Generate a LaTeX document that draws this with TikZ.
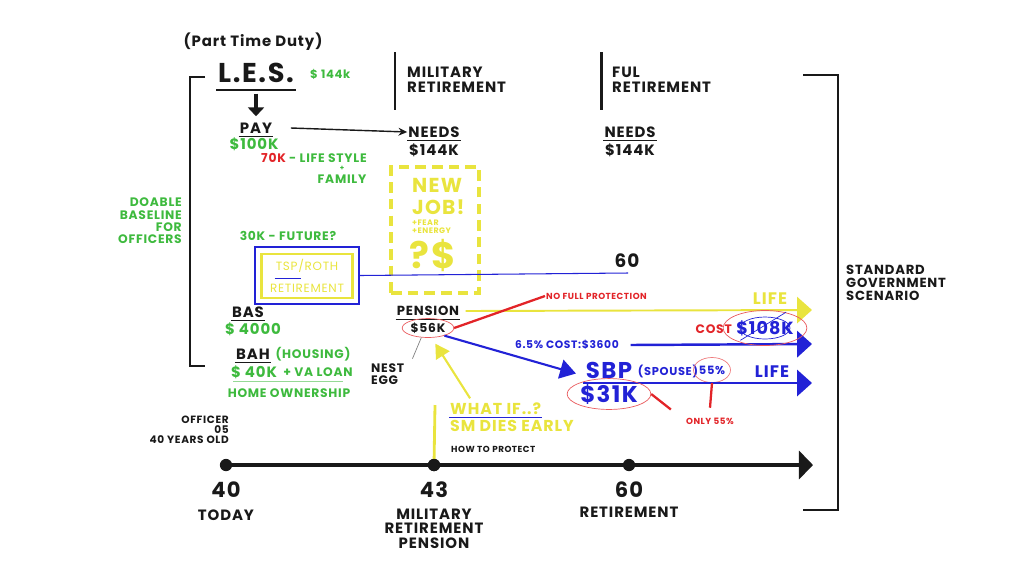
\documentclass[tikz,border=0pt]{standalone}
\usepackage{fontspec}
\setmainfont{Poppins}[LetterSpace=6]
\usetikzlibrary{arrows.meta,positioning,shapes.geometric}
\definecolor{govgreen}{RGB}{62,186,62}
\definecolor{govred}{RGB}{226,36,40}
\definecolor{govyellow}{RGB}{233,228,62}
\definecolor{govblue}{RGB}{34,34,214}
\definecolor{govblack}{RGB}{25,25,25}

\begin{document}
\begin{tikzpicture}[
    x=0.02cm, y=-0.02cm,
    txt/.style={inner sep=0.5pt, text=govblack, align=center, font=\bfseries\fontsize{8.5}{8.6}\selectfont},
    small/.style={inner sep=0.5pt, text=govblack, align=center, font=\bfseries\fontsize{7}{7}\selectfont},
    tiny/.style={inner sep=0.5pt, text=govblack, align=center, font=\bfseries\fontsize{5}{5.2}\selectfont},
    big/.style={inner sep=0.5pt, font=\bfseries\fontsize{13}{13}\selectfont},
    year/.style={inner sep=0.5pt, text=govblack, font=\bfseries\fontsize{12}{12}\selectfont},
    bar/.style={line width=1.7pt, govblack},
    bracket/.style={line width=1.1pt, govblack},
    arrow/.style={-{Stealth[length=5pt,width=4.5pt]}, thick, govblack},
    flow/.style={line width=1.4pt, -{Triangle[length=8.5pt,width=15pt]}},
    ring/.style={ellipse, draw=govred!75, thin, inner sep=1.5pt},
    dot/.style={circle, fill=govblack, inner sep=0pt, minimum size=7pt}
]
\useasboundingbox (0,0) rectangle (1024,576);

% Pay side
\node[txt] (duty) at (253,42) {(Part Time Duty)};
\node[inner sep=1pt, text=govblack, font=\bfseries\fontsize{15.5}{15.5}\selectfont] (les) at (256,73) {L.E.S.};
\draw[govblack, thick] ([yshift=-3pt]les.south west) -- ([yshift=-3pt]les.south east);
\node[small, font=\bfseries\fontsize{6.6}{6.6}\selectfont, text=govgreen, anchor=west] (lesval) at (309,74) {\$ 144k};
\node[txt] (pay) at (256,128) {PAY};
\draw[govblack, thin] ([yshift=-0.8pt]pay.south west) -- ([yshift=-0.8pt]pay.south east);
\node[txt, text=govgreen] (payval) at (254,144.5) {\$100K};
\draw[line width=2.6pt, govblack, -{Triangle[length=5pt,width=9pt]}] ([yshift=-5pt]les.south) -- ([yshift=3pt]pay.north);
\node[small, anchor=west] (style) at (260,157.5) {\textcolor{govred}{70K} \textcolor{govgreen}{- LIFE STYLE}};
\node[inner sep=0pt, text=govgreen, font=\bfseries\fontsize{4}{4}\selectfont] (plus) at (342,168) {+};
\node[small, text=govgreen] (family) at (342,179) {FAMILY};

\node[small, text=govgreen, align=right, anchor=east] (doable) at (183,221) {DOABLE\\BASELINE\\FOR\\OFFICERS};
\draw[bracket] (205,77) -- (190,77) -- (190,366) -- (205,366);

% Retirement headings
\draw[bar] (395,52) -- (395,110);
\node[txt, anchor=west, align=left] (milret) at (406,80) {MILITARY\\RETIREMENT};
\draw[bar] (601,52) -- (601,110);
\node[txt, anchor=west, align=left] (fulret) at (611,80) {FUL\\RETIREMENT};
\node[txt] (needs) at (434,132) {NEEDS};
\draw[govblack, thin] ([yshift=-0.8pt]needs.south west) -- ([yshift=-0.8pt]needs.south east);
\node[txt] (needsval) at (434,150) {\$144K};
\node[txt] (needsful) at (630,132) {NEEDS};
\draw[govblack, thin] ([yshift=-0.8pt]needsful.south west) -- ([yshift=-0.8pt]needsful.south east);
\node[txt] (needsfulval) at (630,150) {\$144K};
\draw[arrow] ([xshift=10pt]pay.east) -- (needs.west);

% New job box
\node[draw=govyellow, line width=2.3pt, dash pattern=on 6pt off 3.5pt, minimum width=1.76cm, minimum height=2.52cm] (newjob) at (435,230) {};
\node[inner sep=0.5pt, text=govyellow, align=left, anchor=north west, font=\bfseries\fontsize{11.5}{12.5}\selectfont] (jobtxt) at (411,177) {NEW\\JOB!};
\node[inner sep=0.5pt, text=govyellow, align=left, anchor=north west, font=\bfseries\fontsize{4.5}{4.6}\selectfont] (fear) at (411,219) {+FEAR\\+ENERGY};
\node[inner sep=0.5pt, text=govyellow, font=\bfseries\fontsize{21}{21}\selectfont] (qmoney) at (433,255) {?\$};

% TSP / Roth
\node[small, text=govgreen] (future) at (288,236) {30K - FUTURE?};
\node[draw=govblue, line width=1.1pt, minimum width=2.08cm, minimum height=1.14cm] (tspbox) at (307,275.5) {};
\node[draw=govyellow, line width=1.5pt, minimum width=1.82cm, minimum height=0.88cm] (tspin) at (307,276) {};
\node[small, text=govyellow, font=\fontsize{6.8}{6.8}\selectfont] (tsp) at (307,266) {TSP/ROTH};
\node[small, text=govyellow, font=\fontsize{6.8}{6.8}\selectfont] (retire) at (307,288) {RETIREMENT};
\draw[govblue, semithick] ([yshift=-2.5pt]tsp.south west) -- ++(26,0);
\coordinate (line60) at (628,273);
\draw[govblue, semithick] (tspbox.east) -- (line60);
\node[inner sep=0.5pt, text=govblack, font=\bfseries\fontsize{10.5}{10.5}\selectfont] (age60) at (627,261) {60};

% BAS / BAH
\node[txt] (bas) at (248,312) {BAS};
\draw[govblack, thin] ([yshift=-1pt]bas.south west) -- ([yshift=-1pt]bas.south east);
\node[txt, text=govgreen] (basval) at (253,329) {\$ 4000};
\node[txt] (bah) at (253,354) {BAH};
\draw[govblack, thin] ([yshift=-1pt]bah.south west) -- ([yshift=-1pt]bah.south east);
\node[txt, text=govgreen] (bahval) at (254,372) {\$ 40K};
\node[small, text=govgreen] (housing) at (313,354) {(HOUSING)};
\node[small, text=govgreen] (valoan) at (318,372) {+ VA LOAN};
\draw[govgreen!55, thin] (233,381) -- (343,381);
\node[small, text=govgreen] (home) at (289,393) {HOME OWNERSHIP};

% Pension and SBP
\node[small, font=\bfseries\fontsize{7.5}{7.5}\selectfont] (pension) at (428,311) {PENSION};
\draw[govblack, thin] ([yshift=-1.5pt]pension.south west) -- ([yshift=-1.5pt]pension.south east);
\node[ring, small, minimum width=0.9cm, minimum height=0.38cm] (p56) at (428,328) {\$56K};
\node[small, align=left, anchor=west] (nest) at (370,374) {NEST\\EGG};
\draw[gray, thin] (p56.235) -- ([xshift=4pt,yshift=2pt]nest.north east);

\coordinate (yend) at (812,310);
\draw[flow, govyellow, line width=1.1pt] ([xshift=3pt]pension.east) -- (yend);
\node[inner sep=0.5pt, text=govyellow, font=\bfseries\fontsize{9.5}{9.5}\selectfont] (lifey) at (770,299) {LIFE};
\node[tiny, text=govred, anchor=west] (nofull) at (545,296) {NO FULL PROTECTION};
\draw[govred, line width=1.3pt] (p56.east) -- (nofull.west);

\node[small, font=\bfseries\fontsize{6.1}{6.1}\selectfont, text=govblue, anchor=east] (cost65) at (620,345) {6.5\% COST:\$3600};
\coordinate (bend) at (812,344);
\draw[flow, govblue] ([xshift=6pt]cost65.east) -- (bend);
\node[small, text=govred, anchor=east] (cost) at (733,329) {COST};
\node[ring, inner sep=0.5pt, text=govblue, font=\bfseries\fontsize{10}{10}\selectfont, minimum width=1.28cm, minimum height=0.7cm] (c108) at (765,328) {\$108K};
\draw[govblue, thin] (c108.center) ellipse [x radius=0.5cm, y radius=0.22cm];
\draw[govblue, thin] ([xshift=-14pt,yshift=-7pt]c108.center) -- ([xshift=12pt,yshift=9pt]c108.center);

\node[big, text=govblue] (sbp) at (609,370) {SBP};
\node[small, font=\bfseries\fontsize{6.5}{6.5}\selectfont, text=govblue] (spouse) at (668,371) {(SPOUSE)};
\node[small, font=\bfseries\fontsize{6.5}{6.5}\selectfont, text=govblue, ellipse, draw=govred!60, thin, inner sep=0pt, minimum width=0.58cm, minimum height=0.5cm] (p55) at (712,370) {55\%};
\node[inner sep=0.5pt, text=govblue, font=\bfseries\fontsize{9.5}{9.5}\selectfont] (lifeb) at (772,372) {LIFE};
\coordinate (sbpend) at (812,383);
\draw[flow, govblue, line width=1.2pt] (583,383) -- (sbpend);
\node[ring, big, text=govblue, inner sep=0.5pt, minimum width=1.26cm, minimum height=0.46cm] (s31) at (609,394) {\$31K};
\draw[flow, govblue, line width=1.2pt, -{Triangle[length=9pt,width=11pt]}] (p56.-25) -- ([xshift=-5pt,yshift=-2pt]sbp.west);
\node[tiny, text=govred] (only) at (710,421) {ONLY 55\%};
\draw[govred, line width=1.3pt] (s31.east) -- ([xshift=-8pt,yshift=4pt]only.north west);
\draw[govred, line width=1.3pt] (p55.south) -- ([yshift=5pt]only.north);

% What if
\node[txt, text=govyellow, anchor=west, font=\bfseries\fontsize{9}{9}\selectfont] (whatif) at (449,409) {WHAT IF..?};
\draw[govblue, thin] ([yshift=-0.5pt]whatif.south west) -- ([yshift=-0.5pt]whatif.south east);
\node[txt, text=govyellow, anchor=west, font=\bfseries\fontsize{9}{9}\selectfont] (smdies) at (449,426) {SM DIES EARLY};
\node[tiny, anchor=west] (protect) at (450,449) {HOW TO PROTECT};
\draw[govyellow, line width=1.2pt, -{Triangle[length=8pt,width=9pt]}, shorten >=4pt] ([xshift=12pt,yshift=2pt]whatif.north west) -- (p56.-70);

% Timeline
\node[small, font=\bfseries\fontsize{6}{5.7}\selectfont, align=right, anchor=east] (officer) at (230,430) {OFFICER\\05\\40 YEARS OLD};
\node[dot] (d40) at (226,465) {};
\node[dot] (d43) at (434,465) {};
\node[dot] (d60) at (629,465) {};
\coordinate (tend) at (813,465);
\draw[govyellow, line width=1.6pt] (435,405) -- (d43.center);
\draw[govblack, line width=2pt, -{Triangle[length=8pt,width=16pt]}] (d40.center) -- (tend);
\node[dot] at (d43) {};

\node[year, below=5pt of d40] (y40) {40};
\node[txt, below=6pt of y40] (today) {TODAY};
\node[year, below=5pt of d43] (y43) {43};
\node[txt, below=5pt of y43, font=\bfseries\fontsize{8.5}{8.3}\selectfont] (milpension) {MILITARY\\RETIREMENT\\PENSION};
\node[year, below=5pt of d60] (y60) {60};
\node[txt, below=4pt of y60] (retirement) {RETIREMENT};

% Standard scenario
\draw[bracket] (803,75) -- (838,75) -- (838,510) -- (803,510);
\node[txt, anchor=west, align=left, font=\bfseries\fontsize{7.5}{7.4}\selectfont] (standard) at (845,283) {STANDARD\\GOVERNMENT\\SCENARIO};

\end{tikzpicture}
\end{document}
